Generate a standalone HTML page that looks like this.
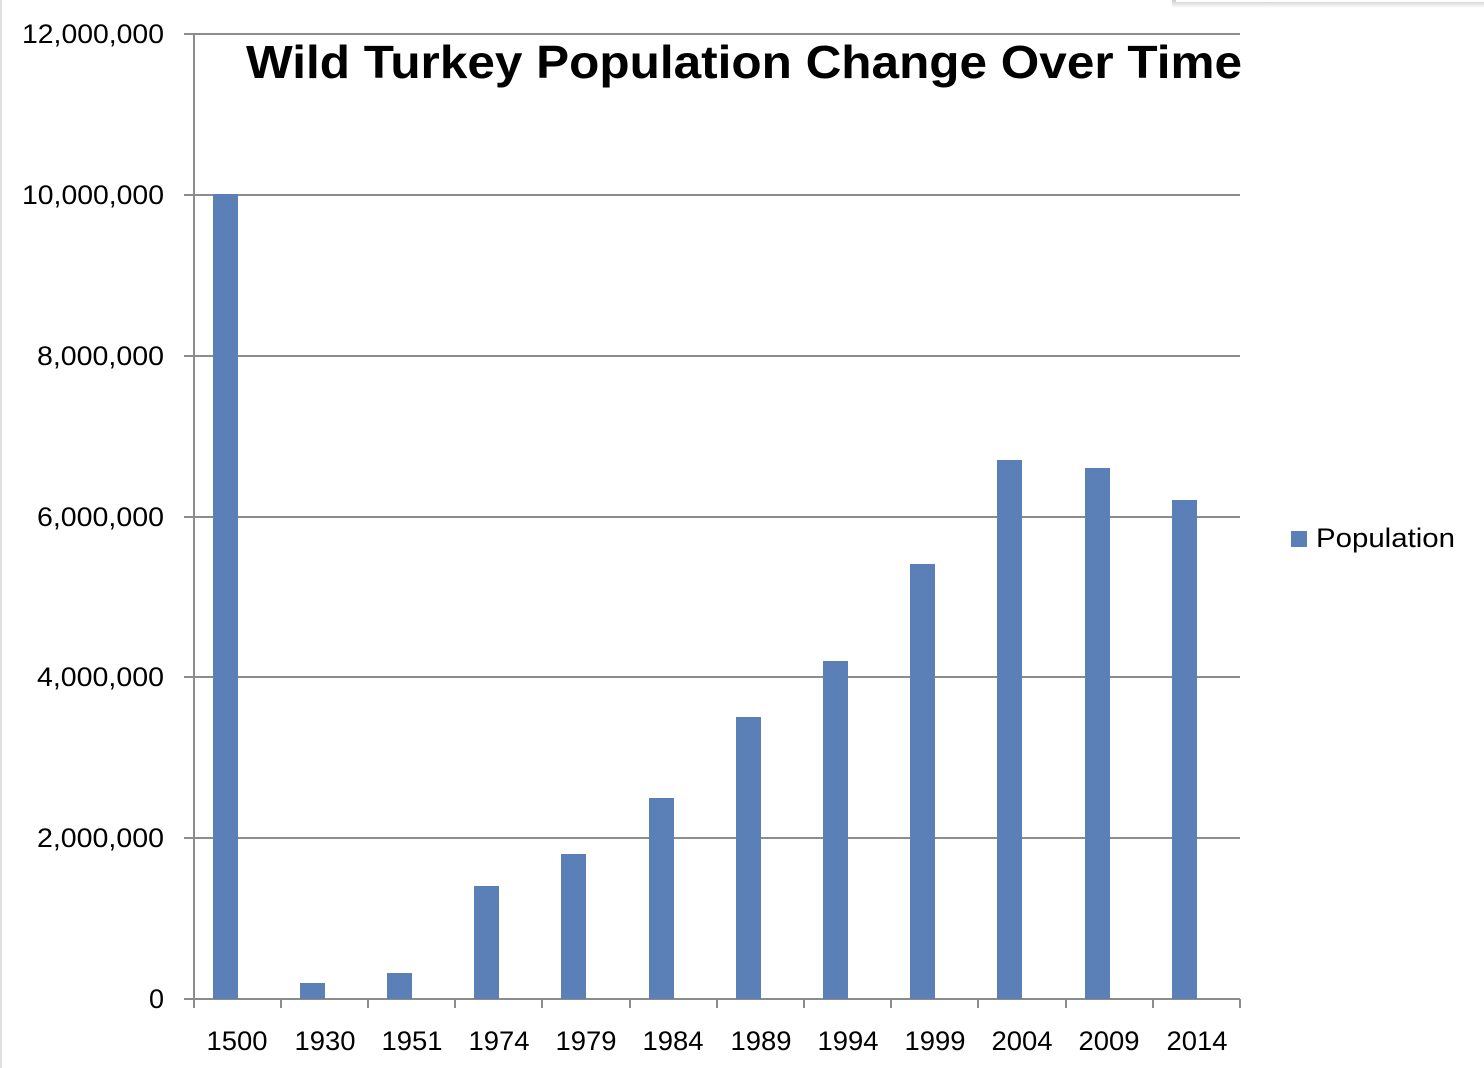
<!DOCTYPE html>
<html><head><style>
html,body{margin:0;padding:0;background:#fff;}
svg{display:block;font-family:"Liberation Sans",sans-serif;}
</style></head><body>
<svg width="1484" height="1068" viewBox="0 0 1484 1068">
<defs><linearGradient id="sh" x1="0" y1="0" x2="0" y2="1"><stop offset="0" stop-color="#ccc"/><stop offset="1" stop-color="#fff"/></linearGradient></defs>
<rect x="0" y="0" width="2" height="1068" fill="#e0e0e0"/>
<rect x="1172" y="0" width="312" height="8" fill="url(#sh)"/>
<rect x="1176" y="0" width="308" height="2" fill="#fff"/>
<g stroke="#8c8c8c" stroke-width="2">
<line x1="184" y1="34" x2="1240" y2="34"/>
<line x1="184" y1="195" x2="1240" y2="195"/>
<line x1="184" y1="356" x2="1240" y2="356"/>
<line x1="184" y1="517" x2="1240" y2="517"/>
<line x1="184" y1="677" x2="1240" y2="677"/>
<line x1="184" y1="838" x2="1240" y2="838"/>
<line x1="184" y1="999" x2="1240" y2="999"/>
<line x1="194" y1="34" x2="194" y2="1008"/>
<line x1="281" y1="999" x2="281" y2="1008"/>
<line x1="368" y1="999" x2="368" y2="1008"/>
<line x1="455" y1="999" x2="455" y2="1008"/>
<line x1="542" y1="999" x2="542" y2="1008"/>
<line x1="630" y1="999" x2="630" y2="1008"/>
<line x1="717" y1="999" x2="717" y2="1008"/>
<line x1="804" y1="999" x2="804" y2="1008"/>
<line x1="891" y1="999" x2="891" y2="1008"/>
<line x1="978" y1="999" x2="978" y2="1008"/>
<line x1="1066" y1="999" x2="1066" y2="1008"/>
<line x1="1153" y1="999" x2="1153" y2="1008"/>
<line x1="1240" y1="999" x2="1240" y2="1008"/>
</g>
<g fill="#5b7fb7">
<rect x="213" y="194" width="25" height="805"/>
<rect x="300" y="983" width="25" height="16"/>
<rect x="387" y="973" width="25" height="26"/>
<rect x="474" y="886" width="25" height="113"/>
<rect x="561" y="854" width="25" height="145"/>
<rect x="649" y="798" width="25" height="201"/>
<rect x="736" y="717" width="25" height="282"/>
<rect x="823" y="661" width="25" height="338"/>
<rect x="910" y="564" width="25" height="435"/>
<rect x="997" y="460" width="25" height="539"/>
<rect x="1085" y="468" width="25" height="531"/>
<rect x="1172" y="500" width="25" height="499"/>
</g>
<g font-size="27" fill="#000" text-anchor="end" lengthAdjust="spacingAndGlyphs">
<text x="164" y="43" textLength="142" lengthAdjust="spacingAndGlyphs">12,000,000</text>
<text x="164" y="204" textLength="142" lengthAdjust="spacingAndGlyphs">10,000,000</text>
<text x="164" y="365" textLength="127" lengthAdjust="spacingAndGlyphs">8,000,000</text>
<text x="164" y="526" textLength="127" lengthAdjust="spacingAndGlyphs">6,000,000</text>
<text x="164" y="686" textLength="127" lengthAdjust="spacingAndGlyphs">4,000,000</text>
<text x="164" y="847" textLength="127" lengthAdjust="spacingAndGlyphs">2,000,000</text>
<text x="164" y="1008">0</text>
</g>
<g font-size="27" fill="#000" text-anchor="middle">
<text x="237" y="1050" textLength="61" lengthAdjust="spacingAndGlyphs">1500</text>
<text x="325" y="1050" textLength="61" lengthAdjust="spacingAndGlyphs">1930</text>
<text x="412" y="1050" textLength="61" lengthAdjust="spacingAndGlyphs">1951</text>
<text x="499" y="1050" textLength="61" lengthAdjust="spacingAndGlyphs">1974</text>
<text x="586" y="1050" textLength="61" lengthAdjust="spacingAndGlyphs">1979</text>
<text x="673" y="1050" textLength="61" lengthAdjust="spacingAndGlyphs">1984</text>
<text x="761" y="1050" textLength="61" lengthAdjust="spacingAndGlyphs">1989</text>
<text x="848" y="1050" textLength="61" lengthAdjust="spacingAndGlyphs">1994</text>
<text x="935" y="1050" textLength="61" lengthAdjust="spacingAndGlyphs">1999</text>
<text x="1022" y="1050" textLength="61" lengthAdjust="spacingAndGlyphs">2004</text>
<text x="1109" y="1050" textLength="61" lengthAdjust="spacingAndGlyphs">2009</text>
<text x="1197" y="1050" textLength="61" lengthAdjust="spacingAndGlyphs">2014</text>
</g>
<text x="1242" y="78" font-size="46" font-weight="bold" text-anchor="end" textLength="996" lengthAdjust="spacingAndGlyphs">Wild Turkey Population Change Over Time</text>
<rect x="1291" y="531" width="16" height="16" fill="#5b7fb7"/>
<text x="1316" y="547" font-size="27" textLength="139" lengthAdjust="spacingAndGlyphs">Population</text>
</svg>
</body></html>
